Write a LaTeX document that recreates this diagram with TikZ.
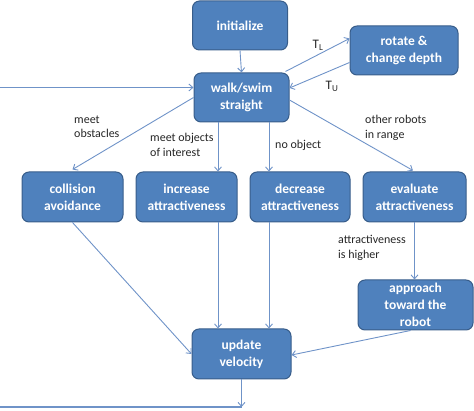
\documentclass[tikz,border=0pt]{standalone}
\usepackage{fontspec}
\setmainfont{Carlito}
\usetikzlibrary{arrows.meta,calc}
\definecolor{boxfill}{HTML}{4F81BD}
\definecolor{boxline}{HTML}{385D8A}
\definecolor{conn}{HTML}{6F93C8}
\definecolor{lbl}{HTML}{262626}
\tikzset{
  stepbox/.style={draw=boxline, line width=1pt, fill=boxfill, rounded corners=7pt,
    text=white, font=\bfseries\fontsize{13.5}{17}\selectfont, align=center,
    inner sep=0pt, minimum height=49pt},
  conn/.style={draw=conn, line width=0.9pt, -{Straight Barb[length=4pt,width=7pt]}},
  lab/.style={text=lbl, font=\fontsize{12}{14.5}\selectfont, align=left, inner sep=0pt, anchor=west}
}
\begin{document}
\begin{tikzpicture}[x=1pt,y=-1pt]
\useasboundingbox (0,0) rectangle (474,411);
\node[stepbox, minimum width=95pt] (init) at (240,25.5) {initialize};
\node[stepbox, minimum width=108pt] (rot) at (404,50.5) {rotate \&\\change depth};
\node[stepbox, minimum width=95pt] (walk) at (241.5,97.5) {walk/swim\\straight};
\node[stepbox, minimum width=101pt, minimum height=50pt] (coll) at (72.5,197) {collision\\avoidance};
\node[stepbox, minimum width=101pt, minimum height=50pt] (inc) at (186.5,197) {increase\\attractiveness};
\node[stepbox, minimum width=100pt, minimum height=50pt] (dec) at (300,197) {decrease\\attractiveness};
\node[stepbox, minimum width=103pt, minimum height=50pt] (eval) at (414.5,197) {evaluate\\attractiveness};
\node[stepbox, minimum width=115pt, minimum height=50pt] (appr) at (415.5,305) {approach\\toward the\\robot};
\node[stepbox, minimum width=99pt, minimum height=50pt] (upd) at (241.5,354) {update\\velocity};

\coordinate (lin) at (0,87.5);
\coordinate (bl) at (0,407);
\coordinate (br) at (241.5,407);

% connectors
\draw[conn] (init.south) -- (walk.north);
\draw[conn] ([xshift=-4pt,yshift=1pt]walk.north east) -- ([yshift=12pt]rot.west);
\draw[conn] ([yshift=-12pt]rot.west) -- ([yshift=9.5pt]walk.east);
\draw[conn] (lin) -- (lin -| walk.west);
\draw[conn] (walk.west) -- ([yshift=2pt]coll.north);
\draw[conn] ([xshift=-23.5pt]walk.south) -- ([xshift=-23.5pt]walk.south |- inc.north);
\draw[conn] ([xshift=27.5pt]walk.south) -- ([xshift=27.5pt]walk.south |- dec.north);
\draw[conn] ([yshift=-2.5pt]walk.east) -- ([xshift=-1.5pt,yshift=1pt]eval.north);
\draw[conn] (coll.south) -- (upd.west);
\draw[conn] ([xshift=31.5pt]inc.south) -- ([xshift=31.5pt]inc.south |- upd.north);
\draw[conn] ([xshift=-31pt]dec.south) -- ([xshift=-31pt]dec.south |- upd.north);
\draw[conn] (eval.south) -- (eval.south |- appr.north);
\draw[conn] ([xshift=-5pt]appr.south) -- ([yshift=-1pt]upd.east);
\draw[conn] (upd.south) -- (br);
\draw[draw=conn, line width=2pt] (br) -- (bl);

% labels
\node[lab] (l1) at (74,127) {meet\\obstacles};
\node[lab] (l2) at (150,145) {meet objects\\of interest};
\node[lab] (l3) at (275,145) {no object};
\node[lab] (l4) at (365,128) {other robots\\in range};
\node[lab] (l5) at (338,248) {attractiveness\\is higher};
\node[text=lbl, font=\fontsize{13}{15}\selectfont, inner sep=0pt] (tl) at (318,45) {T\textsubscript{L}};
\node[text=lbl, font=\fontsize{13}{15}\selectfont, inner sep=0pt] (tu) at (332,86) {T\textsubscript{U}};
\end{tikzpicture}
\end{document}
